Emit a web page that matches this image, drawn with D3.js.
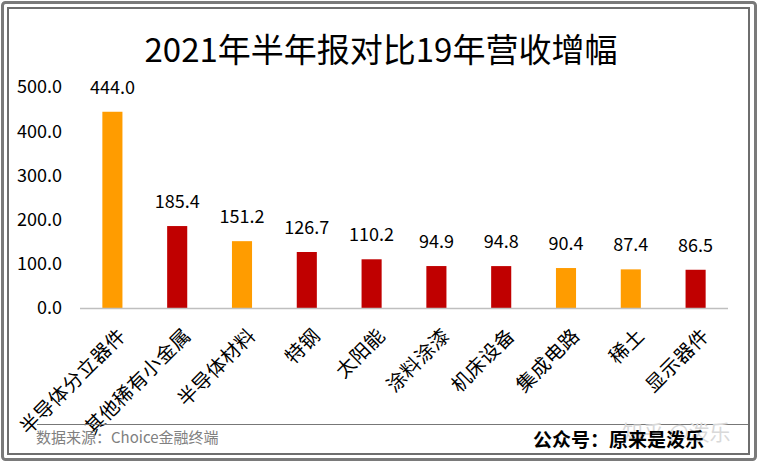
<!DOCTYPE html>
<html>
<head>
<meta charset="utf-8">
<script src="https://cdn.jsdelivr.net/npm/d3@7"></script>
<style>
  body { margin: 0; background: #fff; }
  text { font-family: "Noto Sans CJK SC", "Noto Sans", sans-serif; }
</style>
</head>
<body>
<svg id="chart" width="760" height="464"></svg>
<script>
const categories = ["半导体分立器件", "其他稀有小金属", "半导体材料", "特钢", "太阳能",
  "涂料涂漆", "机床设备", "集成电路", "稀土", "显示器件"];
const values = [444.0, 185.4, 151.2, 126.7, 110.2, 94.9, 94.8, 90.4, 87.4, 86.5];
const barColors = ["#FF9C00", "#C00000", "#FF9C00", "#C00000", "#C00000",
  "#C00000", "#C00000", "#FF9C00", "#FF9C00", "#C00000"];
const yTicks = [0, 100, 200, 300, 400, 500];

const svg = d3.select("#chart");

// frame
svg.append("rect").attr("x", 2.5).attr("y", 2.5).attr("width", 753).attr("height", 457)
  .attr("fill", "none").attr("stroke", "#7a7a7a").attr("stroke-width", 3).attr("rx", 3);
svg.append("rect").attr("x", 8).attr("y", 8).attr("width", 741).attr("height", 446)
  .attr("fill", "#fff").attr("stroke", "#6e6e6e").attr("stroke-width", 2);

// title
svg.append("text")
  .attr("x", 381).attr("y", 62)
  .attr("text-anchor", "middle")
  .style("font-size", "33px")
  .attr("fill", "#000")
  .text("2021年半年报对比19年营收增幅");

const plotLeft = 80, plotRight = 728, base = 308, plotTop = 87;

const x = d3.scaleBand().domain(categories).range([plotLeft, plotRight]).paddingInner(0.69).paddingOuter(0.345);
const y = d3.scaleLinear().domain([0, 500]).range([base, plotTop]);

// y tick labels
svg.selectAll(".ytick").data(yTicks).join("text")
  .attr("class", "ytick")
  .attr("x", 62).attr("y", d => y(d))
  .attr("dy", "0.35em")
  .attr("text-anchor", "end")
  .style("font-size", "18px")
  .attr("fill", "#000")
  .text(d => d3.format(".1f")(d));

// bars
svg.selectAll(".bar").data(values).join("rect")
  .attr("class", "bar")
  .attr("x", (d, i) => x(categories[i]))
  .attr("y", d => y(d))
  .attr("width", x.bandwidth())
  .attr("height", d => base - y(d))
  .attr("fill", (d, i) => barColors[i]);

// axis line
svg.append("line")
  .attr("x1", plotLeft).attr("x2", plotRight).attr("y1", base + 0.5).attr("y2", base + 0.5)
  .attr("stroke", "#bfbfbf").attr("stroke-width", 1.5);

// value labels
svg.selectAll(".val").data(values).join("text")
  .attr("class", "val")
  .attr("x", (d, i) => x(categories[i]) + x.bandwidth() / 2)
  .attr("y", d => y(d) - 18)
  .attr("text-anchor", "middle")
  .style("font-size", "18px")
  .attr("fill", "#000")
  .text(d => d3.format(".1f")(d));

// category labels
svg.selectAll(".cat").data(categories).join("text")
  .attr("class", "cat")
  .attr("transform", d => `translate(${x(d) + x.bandwidth() / 2 + 10},${base + 24}) rotate(-45)`)
  .attr("text-anchor", "end")
  .attr("dy", "0.35em")
  .style("font-size", "19.5px")
  .style("letter-spacing", "0.5px")
  .attr("fill", "#000")
  .text(d => d);

// footer
svg.append("line")
  .attr("x1", 37).attr("x2", 748).attr("y1", 424.5).attr("y2", 424.5)
  .attr("stroke", "#777").attr("stroke-width", 1);

svg.append("text")
  .attr("x", 36).attr("y", 443)
  .style("font-size", "15px")
  .attr("fill", "#808080")
  .text("数据来源：Choice金融终端");

svg.append("text")
  .attr("x", 622).attr("y", 440)
  .style("font-size", "21px")
  .attr("fill", "#d9d9d9")
  .text("知乎 @泼乐");

svg.append("text")
  .attr("x", 533).attr("y", 447)
  .style("font-size", "19px")
  .style("font-weight", "bold")
  .attr("fill", "#000")
  .text("公众号：原来是泼乐");
</script>
</body>
</html>
